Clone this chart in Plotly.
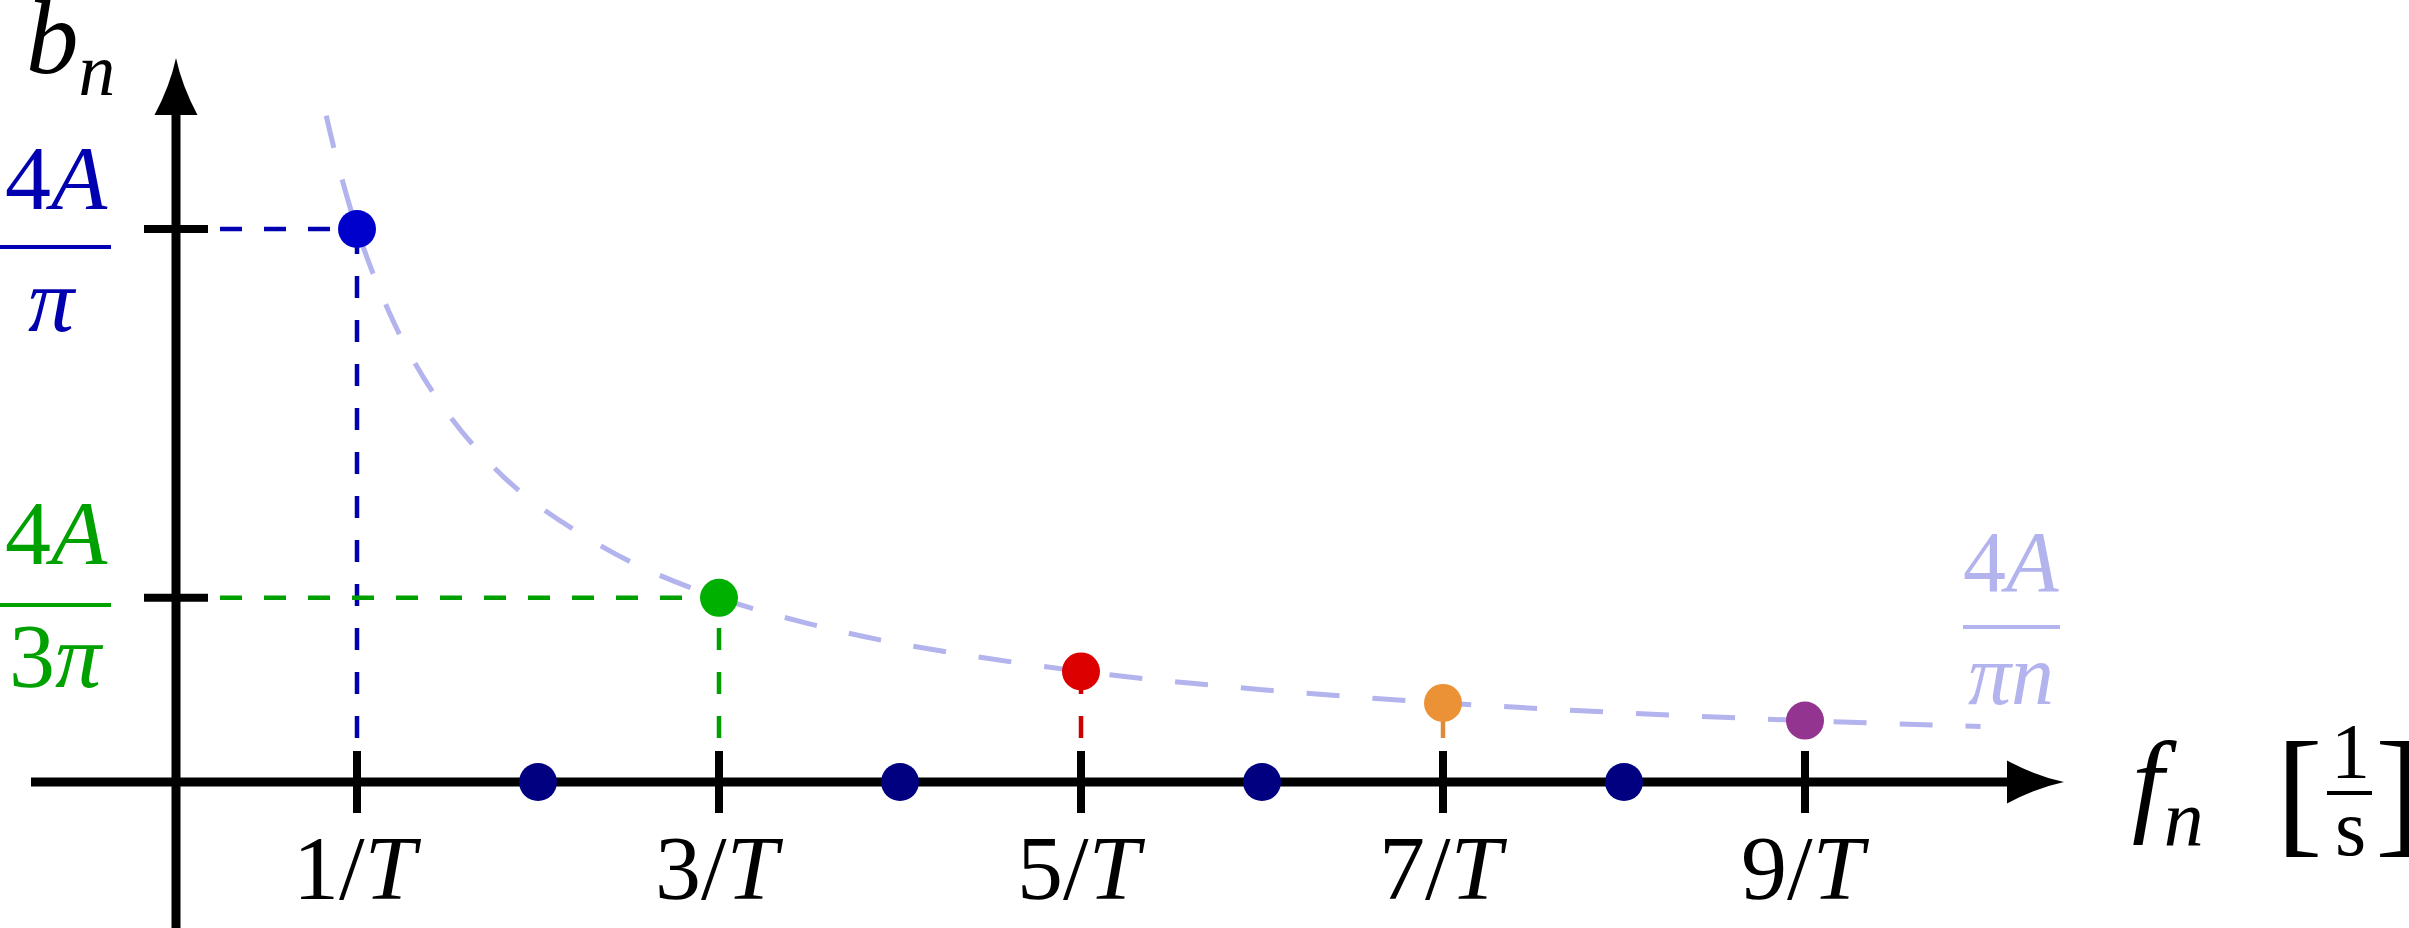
import plotly.graph_objects as go

# Fourier sine coefficients b_n of a square wave, in units of 4A/pi
odd_n = [1, 3, 5, 7, 9]
odd_b = [1.0, 0.333, 0.2, 0.143, 0.111]
even_n = [2, 4, 6, 8]
even_b = [0.0, 0.0, 0.0, 0.0]
tick_labels = ["1/<i>T</i>", "3/<i>T</i>", "5/<i>T</i>", "7/<i>T</i>", "9/<i>T</i>"]

# envelope 4A/(pi n)
envelope_n = [0.83, 0.9, 1.0, 1.15, 1.3, 1.5, 1.75, 2.0, 2.5, 3.0, 3.5, 4.0,
              5.0, 6.0, 7.0, 8.0, 9.0, 9.97]
envelope_b = [1.205, 1.111, 1.0, 0.870, 0.769, 0.667, 0.571, 0.5, 0.4, 0.333,
              0.286, 0.25, 0.2, 0.167, 0.143, 0.125, 0.111, 0.1003]

dot_colors = ["#0000cc", "#00b000", "#dd0000", "#ea9235", "#933490"]
guide_colors = ["#0000b0", "#00a000", "#cc0000", "#dd8a3a", "#933490"]
even_color = "#000080"
env_color = "#b3b3ee"

W, H = 2409, 928
X0PX, UX = 176, 181.0   # pixel of n=0, pixels per unit n
Y0PX, UY = 782, 553.0   # pixel of b=0, pixels per unit b


def px2x(p):
    return (p - X0PX) / UX


def py2y(p):
    return (Y0PX - p) / UY


FONT = "Liberation Serif, Times New Roman, DejaVu Serif, serif"
fig = go.Figure()

# dashed guides
for i, (n, b) in enumerate(zip(odd_n, odd_b)):
    fig.add_trace(go.Scatter(x=[n, n], y=[0, b], mode="lines",
                             line=dict(color=guide_colors[i], width=4.5, dash="22px,22px"),
                             hoverinfo="skip", showlegend=False))
    if i < 2:
        fig.add_trace(go.Scatter(x=[0, n], y=[b, b], mode="lines",
                                 line=dict(color=guide_colors[i], width=4.5, dash="22px,22px"),
                                 hoverinfo="skip", showlegend=False))

# envelope curve
fig.add_trace(go.Scatter(x=envelope_n, y=envelope_b, mode="lines",
                         line=dict(color=env_color, width=5, dash="33px,33px", shape="spline"),
                         hoverinfo="skip", showlegend=False))

# axes lines
fig.add_trace(go.Scatter(x=[px2x(31), px2x(2030)], y=[0, 0], mode="lines",
                         line=dict(color="black", width=9), hoverinfo="skip", showlegend=False))
fig.add_trace(go.Scatter(x=[0, 0], y=[py2y(H), py2y(90)], mode="lines",
                         line=dict(color="black", width=9), hoverinfo="skip", showlegend=False))

# ticks
tx, ty = [], []
for n in odd_n:
    tx += [n, n, None]
    ty += [py2y(Y0PX + 31), py2y(Y0PX - 31), None]
for b in odd_b[:2]:
    tx += [px2x(X0PX - 32), px2x(X0PX + 32), None]
    ty += [b, b, None]
fig.add_trace(go.Scatter(x=tx, y=ty, mode="lines", line=dict(color="black", width=8),
                         hoverinfo="skip", showlegend=False))

# coefficient dots
fig.add_trace(go.Scatter(x=even_n, y=even_b, mode="markers",
                         marker=dict(size=38, color=even_color), showlegend=False))
fig.add_trace(go.Scatter(x=odd_n, y=odd_b, mode="markers",
                         marker=dict(size=38, color=dot_colors), showlegend=False))

# arrow heads
fig.add_shape(type="path", xref="x", yref="y", xsizemode="pixel", ysizemode="pixel",
              xanchor=px2x(2064), yanchor=0,
              path="M 0,0 Q -28,6 -57,21.5 L -57,-21.5 Q -28,-6 0,0 Z",
              fillcolor="black", line=dict(width=0))
fig.add_shape(type="path", xref="x", yref="y", xsizemode="pixel", ysizemode="pixel",
              xanchor=0, yanchor=py2y(58),
              path="M 0,0 Q 6,-28 21.5,-57 L -21.5,-57 Q -6,-28 0,0 Z",
              fillcolor="black", line=dict(width=0))


def label(x, y, text, size, color="black"):
    fig.add_annotation(x=x, y=y, text=text, showarrow=False, xanchor="center",
                       yanchor="middle", font=dict(family=FONT, size=size, color=color))


def bar(xa, xb, yp, color, width=4):
    fig.add_shape(type="line", xref="x", yref="y", x0=px2x(xa), x1=px2x(xb),
                  y0=py2y(yp), y1=py2y(yp), line=dict(color=color, width=width))


# x tick labels
for n, t in zip(odd_n, tick_labels):
    label(n, py2y(868), t, 92)

# y tick labels (fractions)
label(px2x(56), py2y(178), "4<i>A</i>", 92, "#0000b0")
bar(0, 111, 247, "#0000b0")
label(px2x(52), py2y(300), "<i>π</i>", 92, "#0000b0")
label(px2x(56), py2y(533), "4<i>A</i>", 92, "#00a000")
bar(0, 111, 605, "#00a000")
label(px2x(56), py2y(656), "3<i>π</i>", 92, "#00a000")

# envelope label
label(px2x(2011), py2y(562), "4<i>A</i>", 86, env_color)
bar(1963, 2060, 627, env_color)
label(px2x(2011), py2y(675), "<i>πn</i>", 86, env_color)

# axis titles
label(px2x(70), py2y(45), "<i>b</i><sub><i>n</i></sub>", 105)
label(px2x(2168), py2y(790), "<i>f</i><sub><i>n</i></sub>", 114)
label(px2x(2299), py2y(790), "[", 140)
label(px2x(2398), py2y(790), "]", 140)
label(px2x(2350), py2y(750), "1", 78)
bar(2327, 2372, 793, "black")
label(px2x(2350), py2y(828), "s", 80)

fig.update_layout(
    width=W, height=H,
    margin=dict(l=0, r=0, t=0, b=0),
    paper_bgcolor="white", plot_bgcolor="white",
    xaxis=dict(range=[px2x(0), px2x(W)], visible=False, fixedrange=True),
    yaxis=dict(range=[py2y(H), py2y(0)], visible=False, fixedrange=True),
    showlegend=False,
)

fig.write_html("out.html", config={"displayModeBar": False},
               post_script="document.body.style.margin='0px';")
